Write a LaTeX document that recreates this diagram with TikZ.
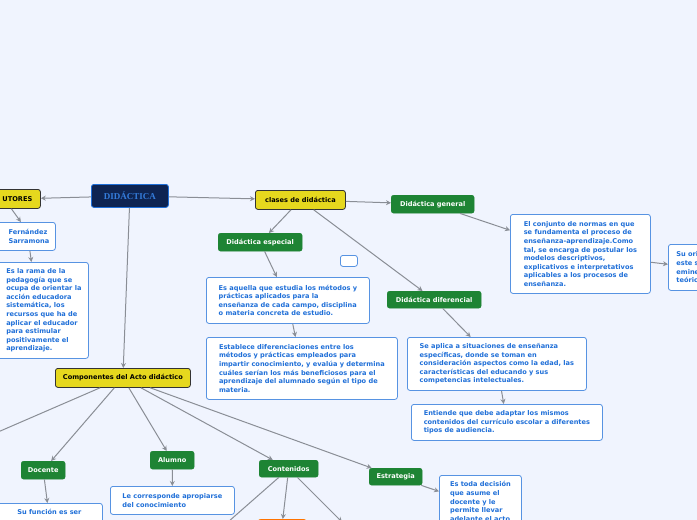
\documentclass[tikz,border=0pt]{standalone}
\usepackage{fontspec}
\setmainfont{DejaVu Sans}
\usetikzlibrary{arrows.meta,calc}
\definecolor{bg}{HTML}{F0F4FE}
\definecolor{yel}{HTML}{E6D81E}
\definecolor{grn}{HTML}{1E8434}
\definecolor{bl}{HTML}{1F6FD8}
\definecolor{navy}{HTML}{0E2452}
\definecolor{ln}{HTML}{8A8E96}
\tikzset{
 base/.style={inner sep=0pt, rounded corners=2.5pt, font=\fontsize{6.6}{8.6}\selectfont\bfseries},
 ybox/.style={base, fill=yel, draw=black!80, line width=0.8pt, text=black, align=center},
 gbox/.style={base, fill=grn, draw=grn, text=white, align=center},
 wbox/.style={base, fill=white, draw=bl!75, line width=0.8pt, text=bl, align=left},
 con/.style={draw=ln, line width=1pt, -{Stealth[length=5pt,width=5pt]}},
 plain/.style={draw=ln, line width=1pt}
}
\begin{document}
\begin{tikzpicture}[x=1pt,y=-1pt]
\fill[bg] (0,0) rectangle (697,520);
\useasboundingbox (0,0) rectangle (697,520);
\begin{scope}
\clip (0,0) rectangle (697,520);
\node[base, fill=navy, draw=bl, line width=0.8pt, minimum width=77pt, minimum height=23pt, anchor=north west, text=bl!90, font=\fontsize{9}{10}\selectfont\bfseries] (did) at (91,184) {\fontspec{Liberation Serif}DIDÁCTICA};
\node[ybox, minimum width=46pt, minimum height=19pt, anchor=north west] (aut) at (-6,189) {UTORES};
\node[ybox, minimum width=90pt, minimum height=19pt, anchor=north west] (cla) at (255,190) {clases de didáctica};
\node[gbox, minimum width=83pt, minimum height=18pt, anchor=north west] (gen) at (391,195) {Didáctica general};
\node[gbox, minimum width=84pt, minimum height=18pt, anchor=north west] (esp) at (218,233) {Didáctica especial};
\node[wbox, minimum width=17pt, minimum height=11pt, anchor=north west] (emp) at (340,255) {};
\node[gbox, minimum width=94pt, minimum height=17pt, anchor=north west] (dif) at (387,291) {Didáctica diferencial};
\node[wbox, minimum width=61pt, minimum height=28pt, anchor=north west] (fer) at (-6,222) {\hspace*{8pt}Fernández\\\hspace*{8pt}Sarramona};
\node[wbox, minimum width=94pt, minimum height=96pt, anchor=north west] (rama) at (-6,262) {\hspace*{5pt}Es la rama de la\\\hspace*{5pt}pedagogía que se\\\hspace*{5pt}ocupa de orientar la\\\hspace*{5pt}acción educadora\\\hspace*{5pt}sistemática, los\\\hspace*{5pt}recursos que ha de\\\hspace*{5pt}aplicar el educador\\\hspace*{5pt}para estimular\\\hspace*{5pt}positivamente el\\\hspace*{5pt}aprendizaje.};
\node[wbox, minimum width=163pt, minimum height=46pt, anchor=north west, inner xsep=8pt] (aq) at (206,277) {Es aquella que estudia los métodos y\\prácticas aplicados para la\\enseñanza de cada campo, disciplina\\o materia concreta de estudio.};
\node[wbox, minimum width=191pt, minimum height=62pt, anchor=north west, inner xsep=8pt] (est) at (206,337) {Establece diferenciaciones entre los\\métodos y prácticas empleados para\\impartir conocimiento, y evalúa y determina\\cuáles serían los más beneficiosos para el\\aprendizaje del alumnado según el tipo de\\materia.};
\node[wbox, minimum width=140pt, minimum height=79pt, anchor=north west, inner xsep=8pt] (conj) at (510,214) {El conjunto de normas en que\\se fundamenta el proceso de\\enseñanza-aprendizaje.Como\\tal, se encarga de postular los\\modelos descriptivos,\\explicativos e interpretativos\\aplicables a los procesos de\\enseñanza.};
\node[wbox, minimum width=40pt, minimum height=46pt, anchor=north west, inner xsep=8pt] (suor) at (668,244) {Su origen\\este se\\eminen\\teórico};
\node[wbox, minimum width=179pt, minimum height=53pt, anchor=north west, inner xsep=8pt] (apl) at (407,337) {Se aplica a situaciones de enseñanza\\específicas, donde se toman en\\consideración aspectos como la edad, las\\características del educando y sus\\competencias intelectuales.};
\node[wbox, minimum width=191pt, minimum height=36pt, anchor=north west, inner xsep=8pt] (ent) at (411,404) {Entiende que debe adaptar los mismos\\contenidos del currículo escolar a diferentes\\tipos de audiencia.};
\node[ybox, minimum width=135pt, minimum height=19pt, anchor=north west] (comp) at (55,368) {Componentes del Acto didáctico};
\node[gbox, minimum width=44pt, minimum height=18pt, anchor=north west] (doc) at (21,461) {Docente};
\node[gbox, minimum width=44pt, minimum height=18pt, anchor=north west] (alu) at (150,451) {Alumno};
\node[gbox, minimum width=59pt, minimum height=17pt, anchor=north west] (cont) at (259,460) {Contenidos};
\node[gbox, minimum width=53pt, minimum height=17pt, anchor=north west] (estr) at (369,468) {Estrategia};
\node[wbox, minimum width=124pt, minimum height=28pt, anchor=north west, inner xsep=8pt] (lec) at (110,486) {Le corresponde apropiarse\\del conocimiento};
\node[wbox, minimum width=106pt, minimum height=30pt, anchor=north west, inner xsep=8pt, text depth=14pt] (suf) at (-4,503) {Su función es ser};
\node[wbox, minimum width=82pt, minimum height=60pt, anchor=north west, inner xsep=8pt, text depth=8pt] (toda) at (439,475) {Es toda decisión\\que asume el\\docente y le\\permite llevar\\adelante el acto};
\node[base, fill=orange!85!red, draw=orange, minimum width=48pt, minimum height=10pt, anchor=north west] (ora) at (258,519) {};
\coordinate (offl) at (-2,432);
\coordinate (c1) at (228,522);
\coordinate (c3) at (342,522);
\draw[con] (did) -- (aut);
\draw[con] (did) -- (cla);
\draw[con] (did) -- (comp);
\draw[con] ([xshift=-6pt]aut.south) -- ([xshift=-4pt]fer.north);
\draw[con] ([xshift=5pt]fer.south) -- ([xshift=-10pt]rama.north);
\draw[con] (cla) -- (gen);
\draw[con] (cla) -- (esp);
\draw[con] (cla) -- (dif);
\draw[con] (gen) -- (conj);
\draw[con] (conj) -- (suor);
\draw[con] (esp) -- (aq);
\draw[con] (aq) -- (est);
\draw[con] (dif) -- (apl);
\draw[con] (apl) -- (ent);
\draw[plain] (comp) -- (offl);
\draw[con] (comp) -- (doc);
\draw[con] (comp) -- (alu);
\draw[con] (comp) -- (cont);
\draw[con] (comp) -- (estr);
\draw[con] (doc) -- (suf);
\draw[con] (alu) -- (lec);
\draw[con] (estr) -- (toda);
\draw[plain] (cont) -- (c1);
\draw[con] (cont) -- (ora);
\draw[con] (cont) -- (c3);
\end{scope}
\end{tikzpicture}
\end{document}
